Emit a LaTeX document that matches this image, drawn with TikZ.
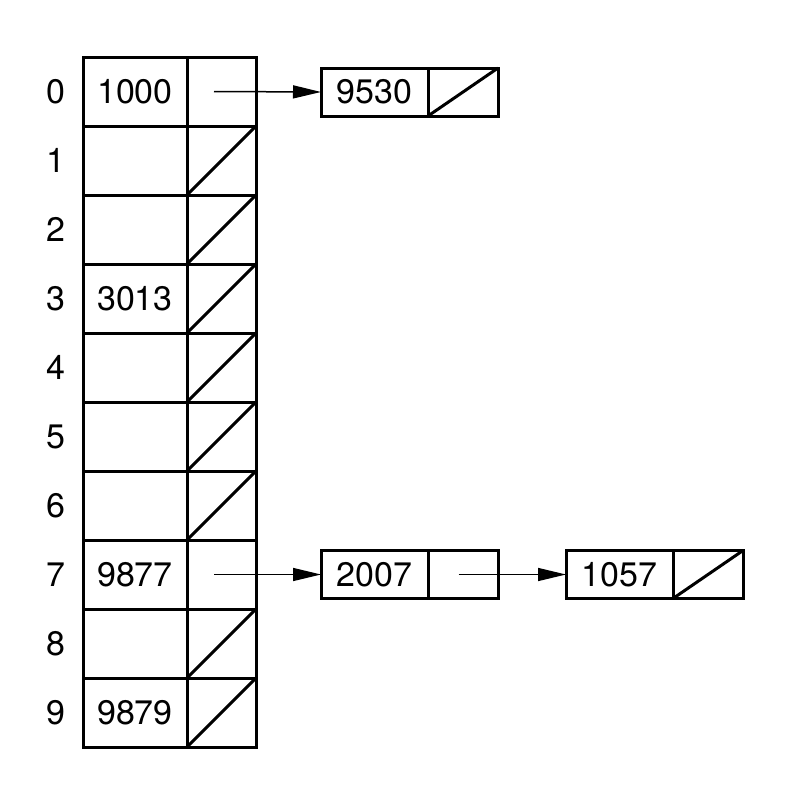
\documentclass[tikz,border=0pt]{standalone}
\usepackage{fontspec}
\setmainfont{TeX Gyre Heros}
\usetikzlibrary{arrows.meta}

\tikzset{
    cell/.style={draw, black, line width=1.5pt, inner sep=0pt, outer sep=0pt},
    keycell/.style={cell, minimum width=52pt, minimum height=34.5pt},
    ptrcell/.style={cell, minimum width=34.5pt, minimum height=34.5pt},
    lkey/.style={cell, minimum width=53.5pt, minimum height=24pt},
    lptr/.style={cell, minimum width=35pt, minimum height=24pt},
    nil/.style={black, line width=1.5pt},
    link/.style={black, line width=0.75pt, -{Triangle[length=14pt,width=6.5pt]}}
}

\begin{document}
\begin{tikzpicture}[x=0.5pt, y=-0.5pt, font=\fontsize{17}{20}\selectfont]
        \useasboundingbox (0,0) rectangle (800,799);

        % hash table
        \foreach \i/\k in {0/1000,1/{},2/{},3/3013,4/{},5/{},6/{},7/9877,8/{},9/9879} {
            \node (idx\i) at (56, 91.5+69*\i) {\i};
            \node[keycell] (k\i) at (135, 91.5+69*\i) {\k};
            \node[ptrcell] (p\i) at (221.5, 91.5+69*\i) {};
        }
        \foreach \i in {1,2,3,4,5,6,8,9} {
            \draw[nil] (p\i.south west) -- (p\i.north east);
        }

        % chain of slot 0
        \node[lkey] (a1) at (374.5, 92) {9530};
        \node[lptr] (ap1) at (463, 92) {};
        \draw[nil] (ap1.south west) -- (ap1.north east);
        \draw[link] ([xshift=-3.75pt]p0.center) -- (a1.west);

        % chain of slot 7
        \node[lkey] (b1) at (374.5, 574.5) {2007};
        \node[lptr] (bp1) at (463, 574.5) {};
        \node[lkey] (b2) at (619.5, 574.5) {1057};
        \node[lptr] (bp2) at (708, 574.5) {};
        \draw[nil] (bp2.south west) -- (bp2.north east);
        \draw[link] ([xshift=-3.75pt]p7.center) -- (b1.west);
        \draw[link] ([xshift=-2.25pt]bp1.center) -- (b2.west);
\end{tikzpicture}
\end{document}
